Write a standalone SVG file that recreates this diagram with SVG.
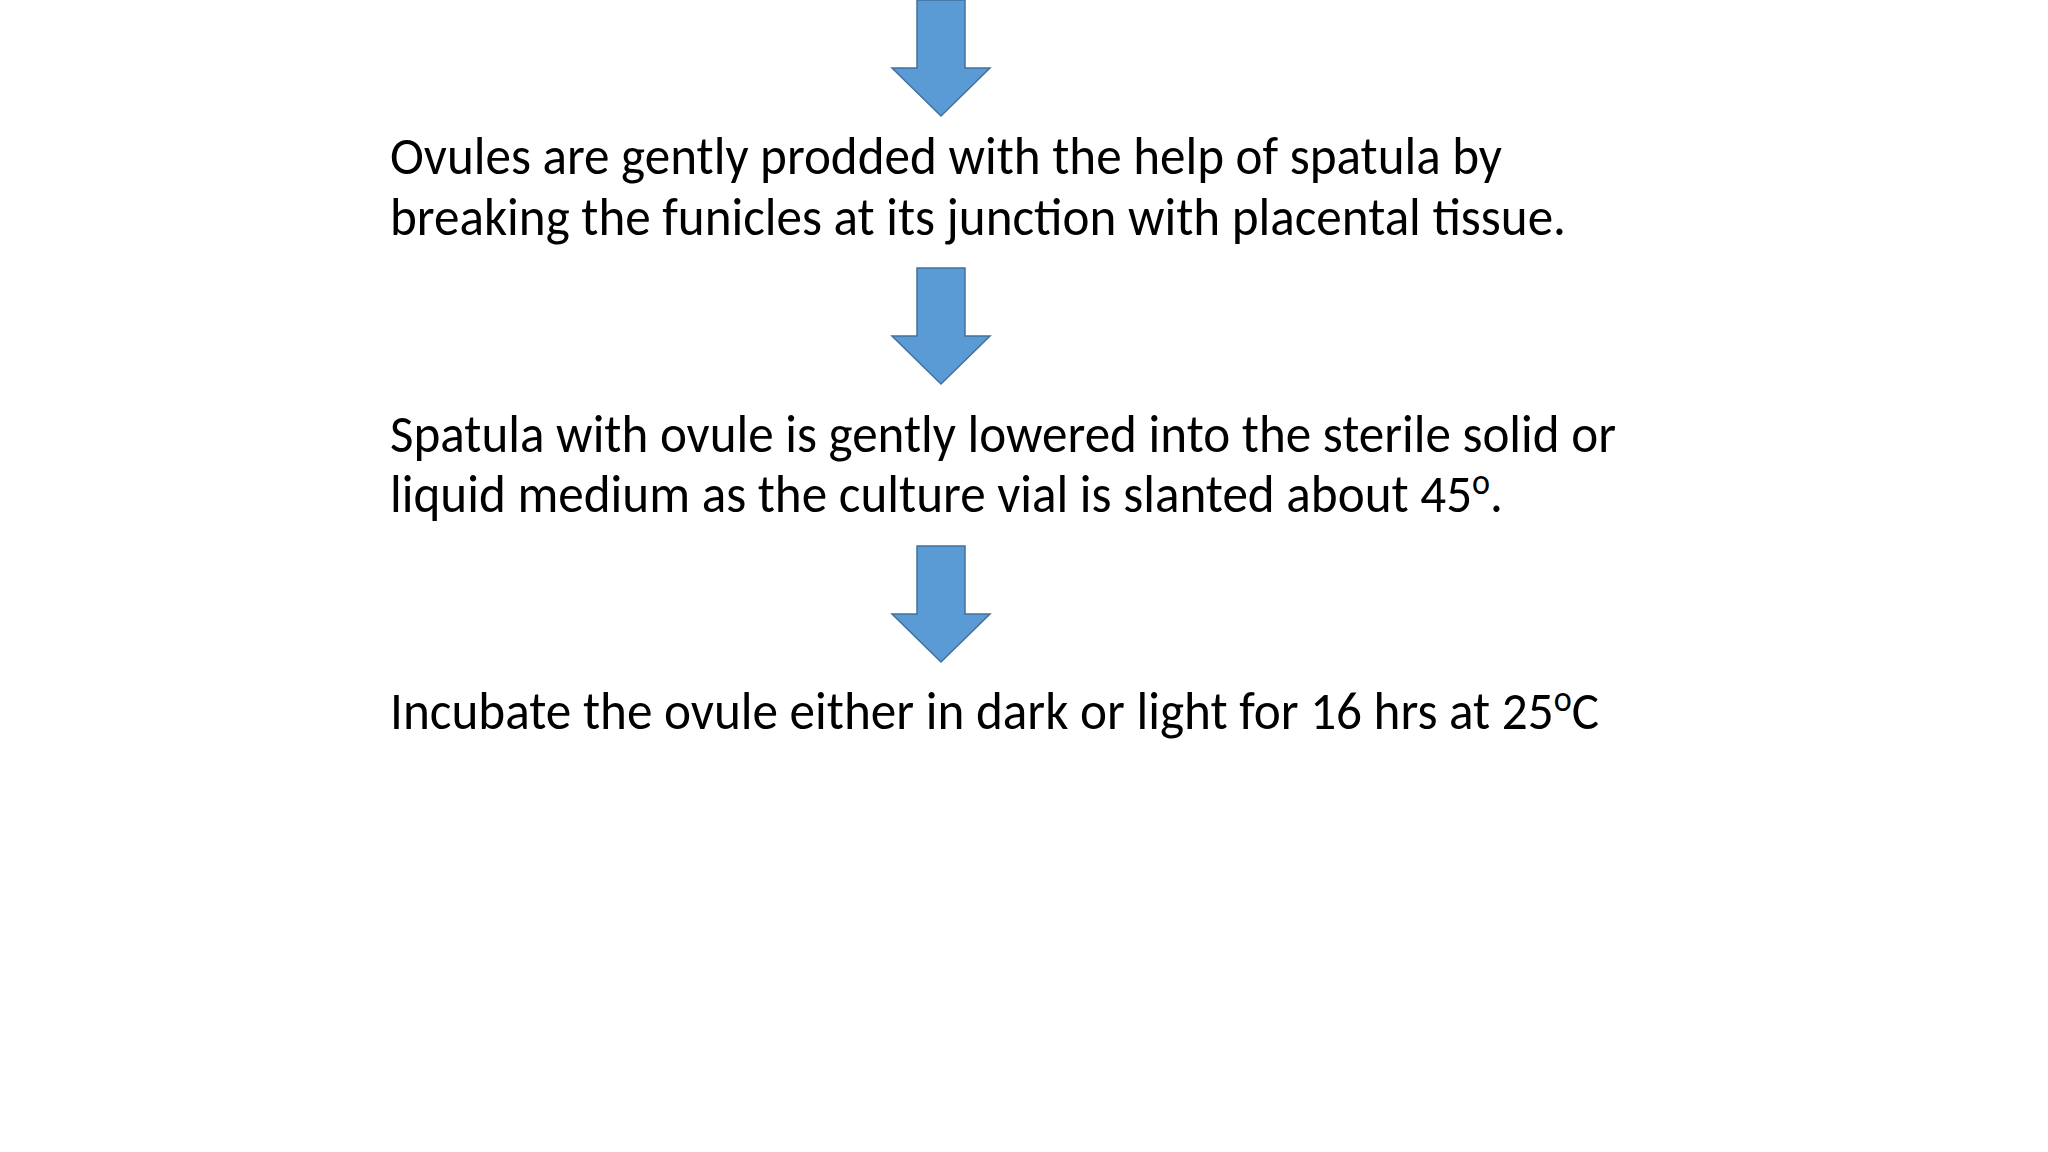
<svg xmlns="http://www.w3.org/2000/svg" width="2048" height="1152" viewBox="0 0 2048 1152">
<style>
.t{font-family:Carlito,"Liberation Sans Narrow","Liberation Sans",sans-serif;font-size:54px;fill:#000}
.a{fill:#5B9BD5;stroke:#41719C;stroke-width:1.5}
</style>
<defs>
<path id="arr" class="a" d="M0,0 H48 V68 H73 L24,116 L-25,68 H0 Z"/>
</defs>
<rect width="2048" height="1152" fill="#fff"/>
<g id="connectors">
<use href="#arr" x="917" y="0"/>
<use href="#arr" x="917" y="268" transform="translate(0,0)"/>
<use href="#arr" x="917" y="546"/>
</g>
<g id="step1">
<text class="t" x="390" y="174" textLength="1112" lengthAdjust="spacingAndGlyphs">Ovules are gently prodded with the help of spatula by</text>
<text class="t" x="390" y="235" textLength="1176" lengthAdjust="spacingAndGlyphs">breaking the funicles at its junction with placental tissue.</text>
</g>
<g id="step2">
<text class="t" x="390" y="452" textLength="1226" lengthAdjust="spacingAndGlyphs">Spatula with ovule is gently lowered into the sterile solid or</text>
<text class="t" x="390" y="512" textLength="1113" lengthAdjust="spacingAndGlyphs">liquid medium as the culture vial is slanted about 45<tspan font-size="36" dy="-18">o</tspan><tspan dy="18">.</tspan></text>
</g>
<g id="step3">
<text class="t" x="390" y="729" textLength="1209" lengthAdjust="spacingAndGlyphs">Incubate the ovule either in dark or light for 16 hrs at 25<tspan font-size="36" dy="-18">o</tspan><tspan dy="18">C</tspan></text>
</g>
</svg>
